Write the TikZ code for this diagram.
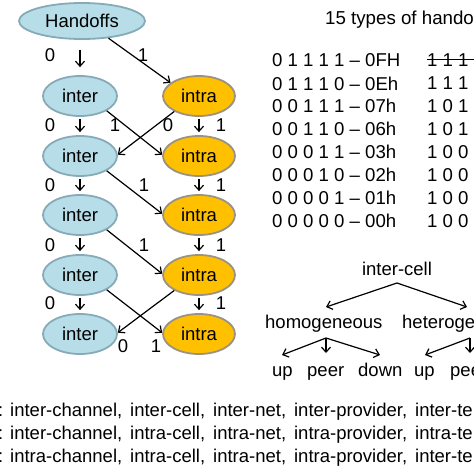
\documentclass[tikz,border=0pt]{standalone}
\usepackage{fontspec}
\setmainfont{Liberation Sans}
\usetikzlibrary{shapes.geometric,arrows.meta}
\definecolor{lblue}{HTML}{B7DDE8}
\definecolor{bblue}{HTML}{86AAB8}
\definecolor{gold}{HTML}{FFC000}
\definecolor{bgold}{HTML}{9C9282}
\newcommand{\cgap}{\hspace{2.8pt}}
\begin{document}
\begin{tikzpicture}[x=1pt,y=-1pt,
  every node/.style={font=\fontsize{18.5}{22}\selectfont},
  bnode/.style={ellipse, draw=bblue, line width=1.8pt, fill=lblue, inner sep=0pt, minimum width=74pt, minimum height=40pt},
  onode/.style={ellipse, draw=bgold, line width=1.8pt, fill=gold, inner sep=0pt, minimum width=72pt, minimum height=40pt},
  arr/.style={-{Straight Barb[length=5pt,width=9pt]}, line width=1.2pt},
  lbl/.style={inner sep=0pt},
  txt/.style={inner sep=0pt, anchor=west},
  btxt/.style={inner sep=0pt, anchor=base west},
]
\useasboundingbox (0,0) rectangle (474,474);
\fill[white] (0,0) rectangle (474,474);
\clip (0,0) rectangle (474,474);

% left graph
\node[bnode, minimum width=126pt, minimum height=36pt] (H) at (82,21) {Handoffs};
\foreach \i/\y in {1/96, 2/156, 3/215, 4/275, 5/334} {
  \node[bnode] (e\i) at (80,\y) {inter};
  \node[onode] (a\i) at (199,\y) {intra};
}
\draw[arr, shorten <=10pt, shorten >=8pt] (H.south -| e1.north) -- (e1.north);
\foreach \i/\j in {1/2, 2/3, 3/4, 4/5} {
  \draw[arr, shorten <=2pt, shorten >=3pt] (e\i.south) -- (e\j.north);
  \draw[arr, shorten <=2pt, shorten >=3pt] (a\i.south) -- (a\j.north);
  \draw[arr] (e\i.-29) -- (a\j.178);
}
\draw[arr] (H.-33) -- (a1.155);
\draw[arr] (a1.212) -- (e2.2);
\draw[arr] (a4.212) -- (e5.2);

\foreach \x/\y/\t [count=\k] in {50/55/0, 143/55/1,
   50/125/0, 115/125/1, 168/125/0, 221/125/1,
   50/185/0, 144/185/1, 221/185/1,
   50/245/0, 144/245/1, 221/245/1,
   50/303/0, 221/303/1, 123/346/0, 156/346/1} {
  \node[lbl] (l\k) at (\x,\y) {\t};
}

% table
\node[txt, font=\fontsize{18.7}{22}\selectfont] (title) at (325,20) {15 types of hando};
\foreach \a/\b [count=\k] in {0 1 1 1 1 – 0FH/1 1 1, 0 1 1 1 0 – 0Eh/1 1 1,
   0 0 1 1 1 – 07h/1 0 1, 0 0 1 1 0 – 06h/1 0 1,
   0 0 0 1 1 – 03h/1 0 0, 0 0 0 1 0 – 02h/1 0 0,
   0 0 0 0 1 – 01h/1 0 0, 0 0 0 0 0 – 00h/1 0 0} {
  \node[txt, font=\fontsize{18.6}{22}\selectfont] (r\k) at (272,{60.5+22.9*(\k-1)}) {\a};
  \node[txt, font=\fontsize{18.6}{22}\selectfont] (s\k) at (427,{60.5+22.9*(\k-1)}) {\b};
}
\draw[line width=1pt] ([yshift=1.5pt]s1.west) -- ([xshift=12pt,yshift=1.5pt]s1.east);

% tree
\node[inner sep=0pt] (ic) at (397,269) {inter-cell};
\node[btxt] (hom) at (265,328) {homogeneous};
\node[btxt] (het) at (402,328) {heteroge};
\node[btxt] (u1) at (272,376) {up};
\node[btxt] (p1) at (307,376) {peer};
\node[btxt] (d1) at (358,376) {down};
\node[btxt] (u2) at (414,376) {up};
\node[btxt] (p2) at (450,376) {pee};
\coordinate (icb) at (397,283);
\coordinate (homt) at (326,307);
\coordinate (hett) at (467,307);
\coordinate (homb) at (326,338);
\coordinate (hetb) at (470,338);
\coordinate (ue1) at (282,355);
\coordinate (pe1) at (326,353);
\coordinate (de1) at (380,355);
\coordinate (ue2) at (425,355);
\coordinate (pe2) at (470,353);
\draw[arr] (icb) -- (homt);
\draw[arr] (icb) -- (hett);
\draw[arr] (homb) -- (ue1);
\draw[arr] (homb) -- (pe1);
\draw[arr] (homb) -- (de1);
\draw[arr] (hetb) -- (ue2);
\draw[arr] (hetb) -- (pe2);

% bottom lines
\node[btxt] (b1) at (-2,416) {: inter-channel,\cgap{} inter-cell,\cgap{} inter-net,\cgap{} inter-provider,\cgap{} inter-te};
\node[btxt] (b2) at (-2,439.3) {: inter-channel,\cgap{} intra-cell,\cgap{} intra-net,\cgap{} intra-provider,\cgap{} intra-te};
\node[btxt] (b3) at (-2,462.7) {: intra-channel,\cgap{} intra-cell,\cgap{} intra-net,\cgap{} intra-provider,\cgap{} inter-te};
\end{tikzpicture}
\end{document}
